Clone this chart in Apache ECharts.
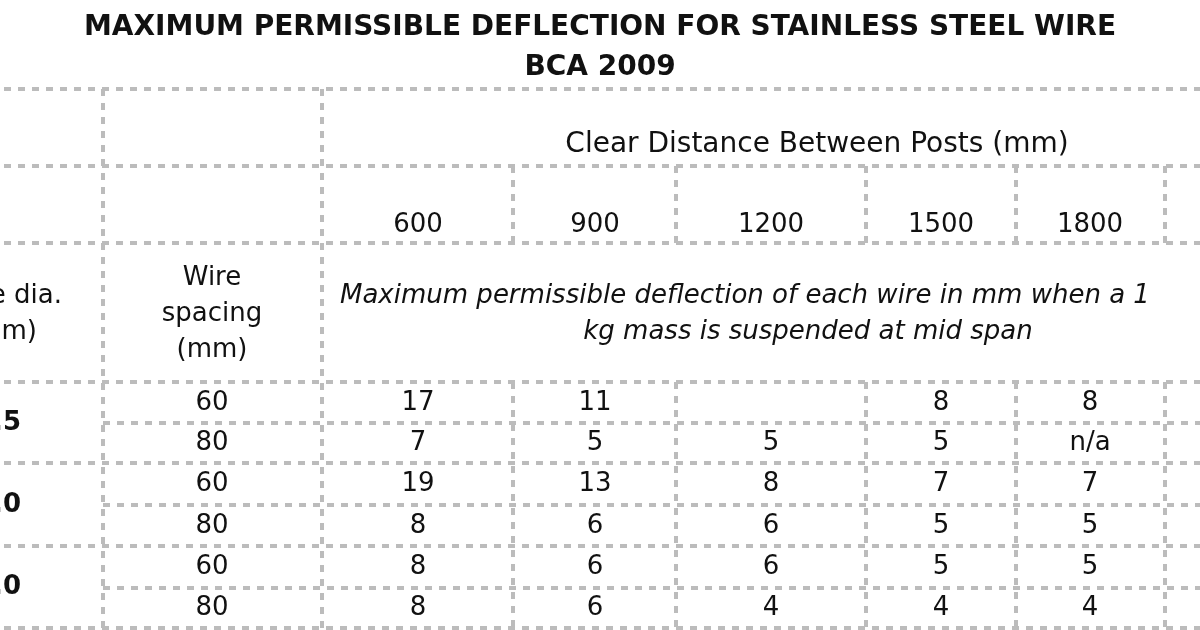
<!DOCTYPE html>
<html><head><meta charset="utf-8">
<script src="https://cdn.jsdelivr.net/npm/echarts@6/dist/echarts.min.js"></script>
<style>html,body{margin:0;padding:0;background:#fff}#c{width:1200px;height:630px}</style>
</head><body><div id="c"></div>
<script>
const title = ['MAXIMUM PERMISSIBLE DEFLECTION FOR STAINLESS STEEL WIRE', 'BCA 2009'];
const distances = ['600', '900', '1200', '1500', '1800'];
const wireDia = ['2.5', '3.0', '4.0'];
const wireSpacing = ['60', '80', '60', '80', '60', '80'];
const deflection = [
  ['17', '11', '', '8', '8'],
  ['7', '5', '5', '5', 'n/a'],
  ['19', '13', '8', '7', '7'],
  ['8', '6', '6', '5', '5'],
  ['8', '6', '6', '5', '5'],
  ['8', '6', '4', '4', '4']
];
// layout
const colCenters = [212, 418, 595, 771, 941, 1090];
const rowCenters = [403, 443, 484, 526, 567, 608];
const hLines = [[89,-10,1210],[166,-10,1210],[243,-10,1210],[382,-10,1210],[423,103,1210],[463,-10,1210],[505,103,1210],[546,-10,1210],[588,103,1210],[628,-10,1210]];
const vLines = [[103,89,628],[322,89,628]];
[513,676,866,1016,1165].forEach(x=>{vLines.push([x,166,243]);vLines.push([x,382,628]);});

const cells = [];
deflection.forEach((r,ri)=>r.forEach((v,ci)=>cells.push([ci+1,ri,v,0])));
wireSpacing.forEach((v,ri)=>cells.push([0,ri,v,0]));
wireDia.forEach((v,i)=>cells.push([-1,i*2,v,1]));

const F = '"DejaVu Sans", Verdana, sans-serif';
const lineStyle = {stroke:'#bcbcbc', lineWidth:4, lineDash:[7,7]};
const chart = echarts.init(document.getElementById('c'));
function t(x,y,text,o){return {type:'text',style:Object.assign({x,y,text,fill:'#111',font:'26px '+F,align:'center',verticalAlign:'middle'},o||{})};}
chart.setOption({
  animation:false,
  grid:{left:0,right:0,top:0,bottom:0},
  xAxis:{type:'value',min:0,max:1200,show:false},
  yAxis:{type:'value',min:0,max:630,inverse:true,show:false},
  series:[
    {type:'custom',coordinateSystem:'cartesian2d',data:[[0,0]],clip:false,silent:true,
     renderItem:function(p,api){
       const ch=[];
       const P=(x,y)=>api.coord([x,y]);
       hLines.forEach(l=>{const a=P(l[1],l[0]),b=P(l[2],l[0]);ch.push({type:'line',shape:{x1:a[0],y1:a[1],x2:b[0],y2:b[1]},style:lineStyle});});
       vLines.forEach(l=>{const a=P(l[0],l[1]),b=P(l[0],l[2]);ch.push({type:'line',shape:{x1:a[0],y1:a[1],x2:b[0],y2:b[1]},style:lineStyle});});
       let q=P(600,28);ch.push(t(q[0],q[1],title[0],{font:'bold 28px '+F}));
       q=P(600,68);ch.push(t(q[0],q[1],title[1],{font:'bold 28px '+F}));
       q=P(817,145);ch.push(t(q[0],q[1],'Clear Distance Between Posts (mm)',{font:'28px '+F}));
       distances.forEach((d,i)=>{const r=P(colCenters[i+1],225);ch.push(t(r[0],r[1],d));});
       q=P(212,314);ch.push(t(q[0],q[1],'Wire\nspacing\n(mm)',{lineHeight:36}));
       q=P(62,296);ch.push(t(q[0],q[1],'Wire dia.',{align:'right'}));
       q=P(37,332);ch.push(t(q[0],q[1],'(mm)',{align:'right'}));
       q=P(340,296);ch.push(t(q[0],q[1],'Maximum permissible deflection of each wire in mm when a 1',{font:'italic 26px '+F,align:'left'}));
       q=P(808,332);ch.push(t(q[0],q[1],'kg mass is suspended at mid span',{font:'italic 26px '+F}));
       return {type:'group',children:ch};
     }},
    {type:'custom',coordinateSystem:'cartesian2d',data:cells,clip:false,silent:true,
     renderItem:function(p,api){
       const ci=api.value(0),ri=api.value(1),txt=cells[p.dataIndex][2],bold=cells[p.dataIndex][3];
       let x,y,o={};
       if(ci<0){x=21;y=(rowCenters[ri]+rowCenters[ri+1])/2;o={font:'bold 26px '+F,align:'right'};}
       else{x=colCenters[ci];y=rowCenters[ri];}
       const q=api.coord([x,y]);
       return t(q[0],q[1],txt,o);
     }}
  ]
});
</script></body></html>
